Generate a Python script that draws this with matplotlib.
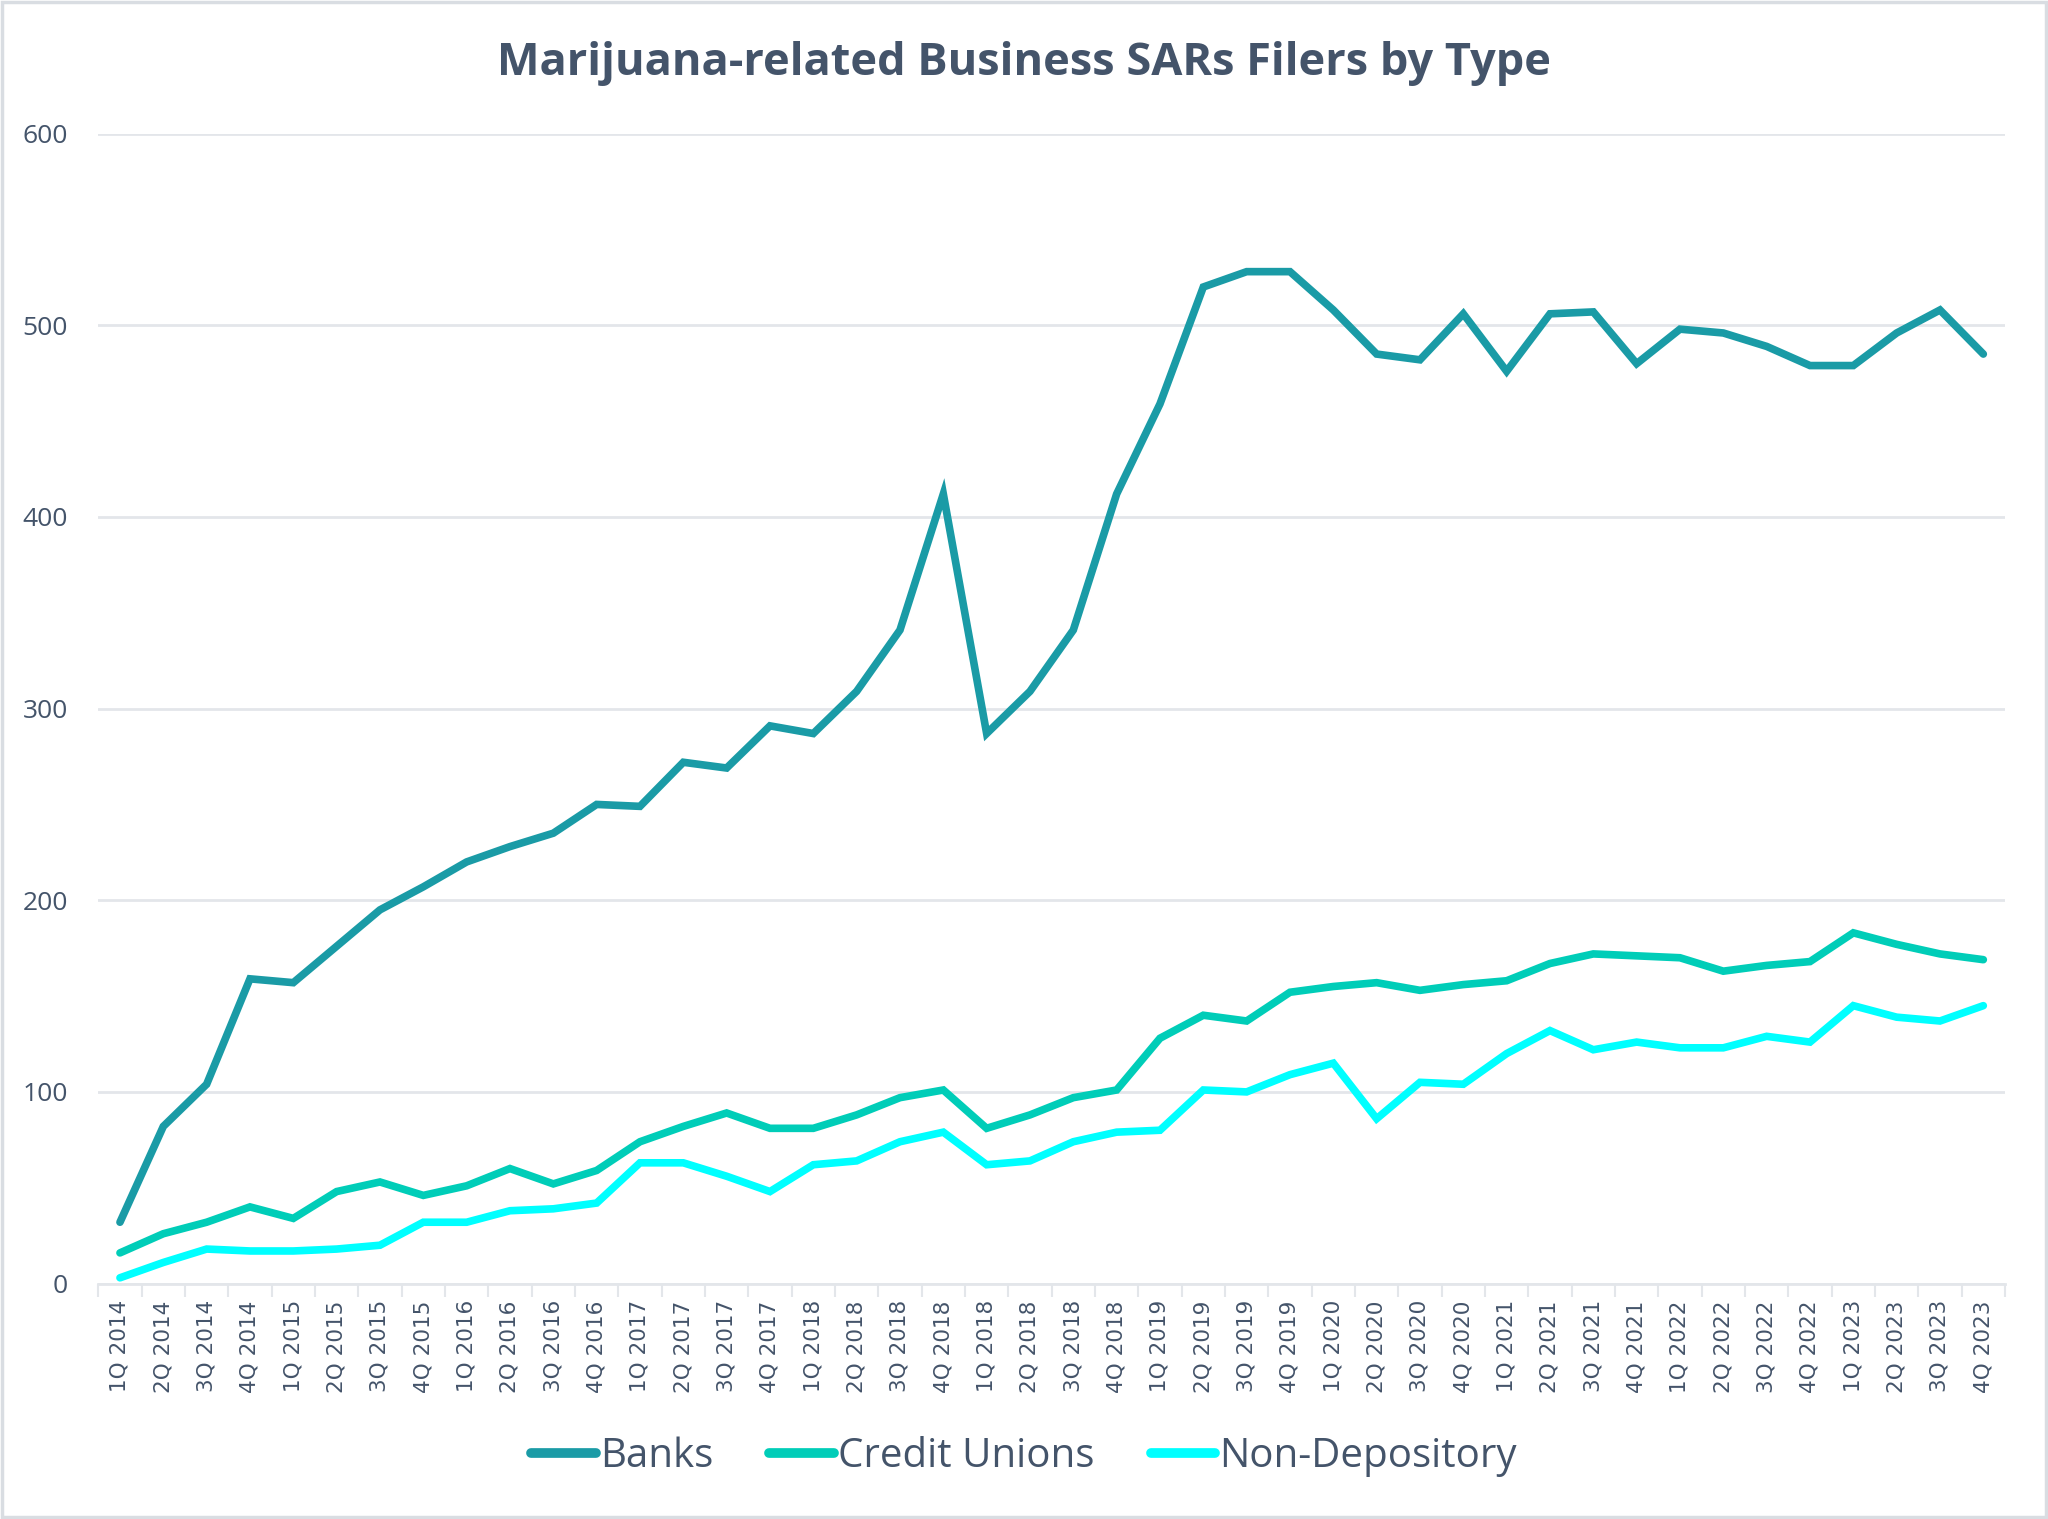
import matplotlib.pyplot as plt
from matplotlib.patches import Rectangle
import numpy as np

# quarter labels as printed on the original chart (2018 appears twice)
quarters = (
    [f"{q}Q {y}" for y in range(2014, 2019) for q in range(1, 5)]
    + [f"{q}Q 2018" for q in range(1, 5)]
    + [f"{q}Q {y}" for y in range(2019, 2024) for q in range(1, 5)]
)

banks = [32, 82, 104, 159, 157, 176, 195, 207, 220, 228, 235, 250, 249, 272, 269,
         291, 287, 309, 341, 412, 287, 309, 341, 412, 459, 520, 528, 528, 508, 485,
         482, 506, 476, 506, 507, 480, 498, 496, 489, 479, 479, 496, 508, 485]
credit_unions = [16, 26, 32, 40, 34, 48, 53, 46, 51, 60, 52, 59, 74, 82, 89,
                 81, 81, 88, 97, 101, 81, 88, 97, 101, 128, 140, 137, 152, 155, 157,
                 153, 156, 158, 167, 172, 171, 170, 163, 166, 168, 183, 177, 172, 169]
non_depository = [3, 11, 18, 17, 17, 18, 20, 32, 32, 38, 39, 42, 63, 63, 56,
                  48, 62, 64, 74, 79, 62, 64, 74, 79, 80, 101, 100, 109, 115, 86,
                  105, 104, 120, 132, 122, 126, 123, 123, 129, 126, 145, 139, 137, 145]

series_names = ["Banks", "Credit Unions", "Non-Depository"]
colors = ["#1A9BA6", "#00CDB8", "#00FFFF"]
text_col = "#44546A"
grid_col = "#E3E6EA"

fig = plt.figure(figsize=(20.48, 15.19), dpi=100)
ax = fig.add_axes([0.048, 0.155, 0.931, 0.757])

x = np.arange(len(quarters))
for vals, name, c in zip([banks, credit_unions, non_depository], series_names, colors):
    ax.plot(x, vals, color=c, lw=5.5, label=name, solid_capstyle="round",
            solid_joinstyle="miter", zorder=3)

ax.set_ylim(0, 600)
ax.set_yticks(range(0, 601, 100))
ax.set_xlim(-0.5, len(quarters) - 0.5)
ax.set_xticks(x)
ax.set_xticklabels(quarters, rotation=90, fontsize=15.5, color=text_col,
                   family="DejaVu Sans")
ax.set_xticks(np.arange(-0.5, len(quarters), 1), minor=True)
ax.tick_params(axis="x", which="major", length=0, pad=12)
ax.tick_params(axis="x", which="minor", length=9, width=1.5, color=grid_col)
ax.tick_params(axis="y", length=0, pad=22, labelsize=19, labelcolor=text_col)
for lab in ax.get_yticklabels():
    lab.set_family("Open Sans")

ax.grid(axis="y", color=grid_col, lw=2, zorder=0)
for s in ["top", "right", "left"]:
    ax.spines[s].set_visible(False)
ax.spines["bottom"].set_color(grid_col)
ax.spines["bottom"].set_linewidth(2)

fig.text(0.5, 0.958, "Marijuana-related Business SARs Filers by Type",
         ha="center", va="center", fontsize=32.5, fontweight="bold",
         color=text_col, family="Open Sans")

leg = fig.legend(loc="center", bbox_to_anchor=(0.5, 0.041), ncol=3, frameon=False,
                 prop={"family": "Open Sans", "size": 29}, handlelength=1.6,
                 handletextpad=0.1, columnspacing=1.4)
for t in leg.get_texts():
    t.set_color(text_col)
for h in leg.get_lines():
    h.set_linewidth(7)
    h.set_solid_capstyle("round")

fig.patches.append(Rectangle((0.001, 0.001), 0.998, 0.998, transform=fig.transFigure,
                             fill=False, edgecolor="#D9DDE2", lw=2.5))

fig.savefig("out.png", dpi=100)
